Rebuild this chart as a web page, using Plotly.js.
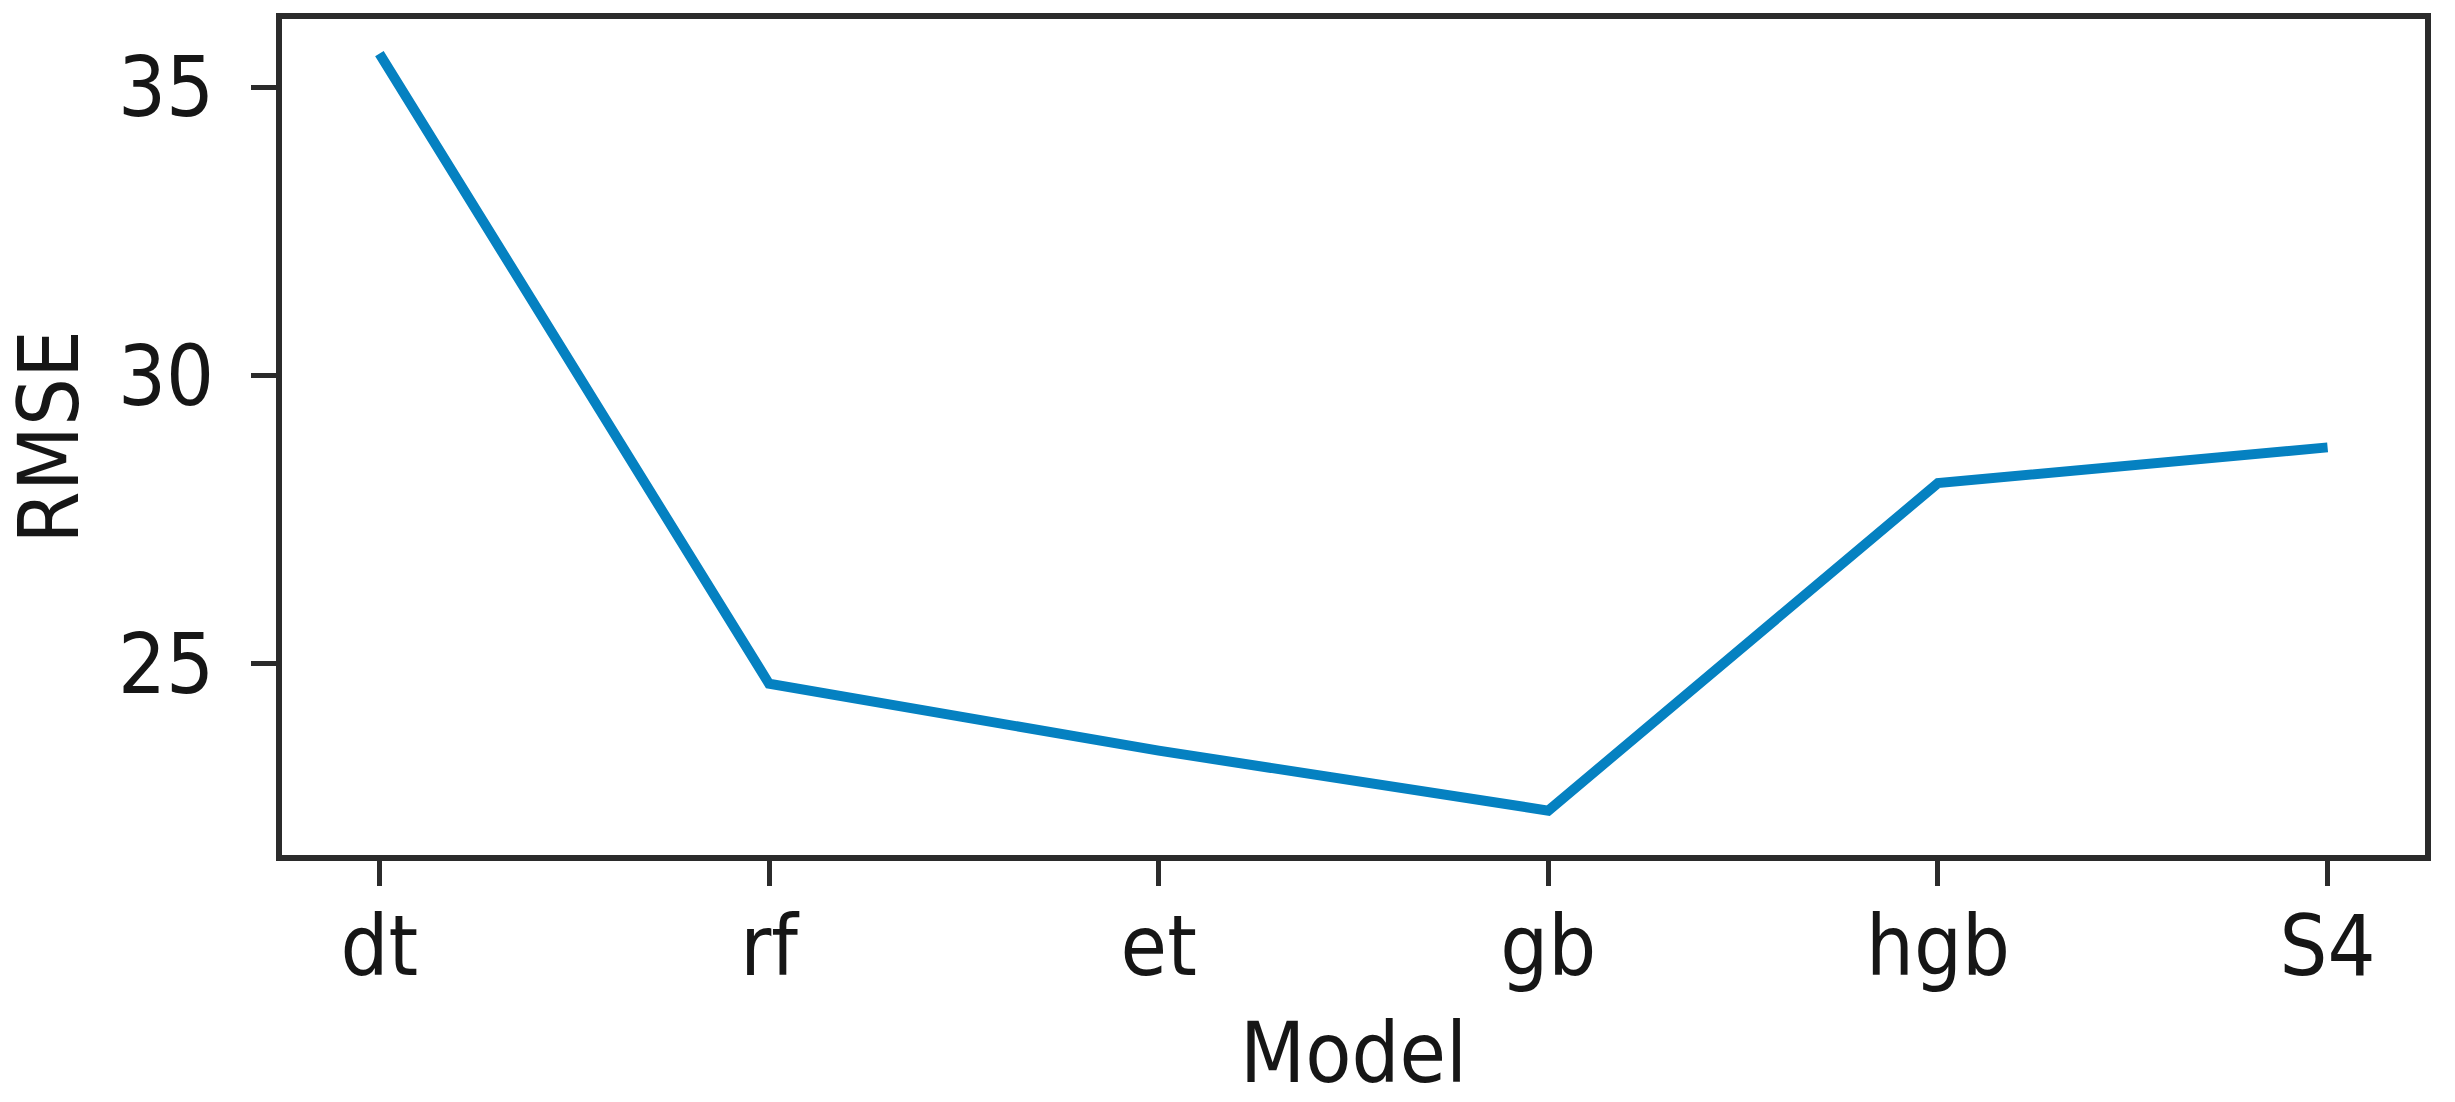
<!DOCTYPE html>
<html>
<head>
<meta charset="utf-8">
<script src="https://cdn.plot.ly/plotly-3.0.1.min.js"></script>
<style>
  html, body { margin: 0; padding: 0; background: #fff; }
  #plot { width: 2455px; height: 1102px; }
</style>
</head>
<body>
<div id="plot"></div>
<script>
// Model names and RMSE
const models = ['dt', 'rf', 'et', 'gb', 'hgb', 'S4'];
const rmse = [35.58, 24.65, 23.49, 22.45, 28.13, 28.75];
const yTicks = [25, 30, 35];

const axisFont = { family: '"DejaVu Sans Condensed", "DejaVu Sans", sans-serif', size: 84, color: '#161616' };

const data = [
    {
        x: models,
        y: rmse,
        type: 'scatter',
        mode: 'lines',
        line: { color: '#0581c1', width: 10 },
        hoverinfo: 'x+y'
    }
];

const layout = {
    width: 2455,
    height: 1102,
    paper_bgcolor: '#ffffff',
    plot_bgcolor: '#ffffff',
    showlegend: false,
    margin: { l: 282, r: 30, t: 19, b: 247 },
    font: axisFont,
    xaxis: {
        type: 'category',
        range: [-0.25, 5.25],
        showgrid: false,
        zeroline: false,
        showline: true,
        mirror: true,
        linecolor: '#2b2b2b',
        linewidth: 6,
        ticks: 'outside',
        ticklen: 25,
        tickwidth: 5,
        tickcolor: '#2b2b2b',
        tickfont: axisFont,
        ticklabelstandoff: -12,
        title: { text: 'Model', font: axisFont, standoff: 45 }
    },
    yaxis: {
        range: [21.68, 36.18],
        tickvals: yTicks,
        ticktext: yTicks.map(String),
        showgrid: false,
        zeroline: false,
        showline: true,
        mirror: true,
        linecolor: '#2b2b2b',
        linewidth: 6,
        ticks: 'outside',
        ticklen: 25,
        tickwidth: 5,
        tickcolor: '#2b2b2b',
        tickfont: axisFont,
        ticklabelstandoff: 20,
        title: { text: 'RMSE', font: axisFont, standoff: 58 }
    }
};

Plotly.newPlot('plot', data, layout, { displayModeBar: false, staticPlot: true });
</script>
</body>
</html>
